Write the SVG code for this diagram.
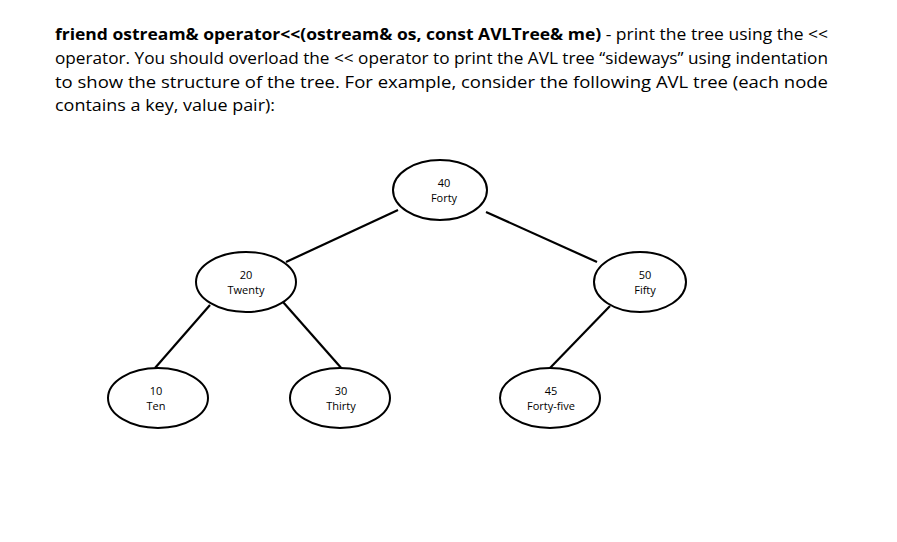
<svg xmlns="http://www.w3.org/2000/svg" width="897" height="542" viewBox="0 0 897 542">
<style>
.t{font-family:"Open Sans","Liberation Sans",sans-serif;font-size:16px;fill:#000}
.b{font-weight:bold}
.n ellipse{fill:#fff;stroke:#000;stroke-width:2}
.n text{font-family:"Open Sans","Liberation Sans",sans-serif;font-size:11px;text-anchor:middle;fill:#000}
#edges line{stroke:#000;stroke-width:2.2}
</style>
<rect width="897" height="542" fill="#fff"/>
<text class="t" x="55" y="40" textLength="773" lengthAdjust="spacingAndGlyphs"><tspan class="b">friend ostream&amp; operator&lt;&lt;(ostream&amp; os, const AVLTree&amp; me)</tspan> - print the tree using the &lt;&lt;</text>
<text class="t" x="55" y="64" textLength="773" lengthAdjust="spacingAndGlyphs">operator. You should overload the &lt;&lt; operator to print the AVL tree “sideways” using indentation</text>
<text class="t" x="55" y="88" textLength="773" lengthAdjust="spacingAndGlyphs">to show the structure of the tree. For example, consider the following AVL tree (each node</text>
<text class="t" x="55" y="111" textLength="220" lengthAdjust="spacingAndGlyphs">contains a key, value pair):</text>
<g id="edges">
<line x1="398" y1="210" x2="286" y2="262"/>
<line x1="486" y1="212" x2="597" y2="262"/>
<line x1="210" y1="305" x2="155" y2="368"/>
<line x1="283" y1="302" x2="343" y2="370"/>
<line x1="610" y1="306" x2="550" y2="368"/>
</g>
<g id="n40" class="n"><ellipse cx="440" cy="190" rx="47" ry="30"/><text x="444" y="187">40</text><text x="444" y="202">Forty</text></g>
<g id="n20" class="n"><ellipse cx="246" cy="282" rx="50" ry="30"/><text x="246" y="279">20</text><text x="246" y="294">Twenty</text></g>
<g id="n50" class="n"><ellipse cx="640" cy="282" rx="46" ry="30"/><text x="645" y="279">50</text><text x="645" y="294">Fifty</text></g>
<g id="n10" class="n"><ellipse cx="158" cy="398" rx="50" ry="30"/><text x="156" y="395">10</text><text x="156" y="410">Ten</text></g>
<g id="n30" class="n"><ellipse cx="340" cy="398" rx="50" ry="30"/><text x="341" y="395">30</text><text x="341" y="410">Thirty</text></g>
<g id="n45" class="n"><ellipse cx="550" cy="398" rx="50" ry="30"/><text x="551" y="395">45</text><text x="551" y="410">Forty-five</text></g>
</svg>
